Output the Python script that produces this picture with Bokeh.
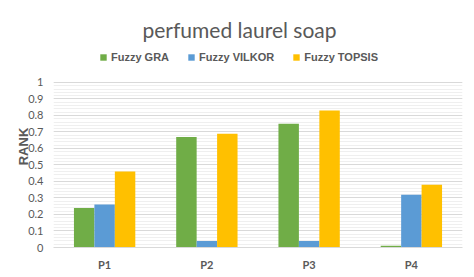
from bokeh.plotting import figure
from bokeh.models import FactorRange, Legend, LegendItem, ColumnDataSource, FixedTicker
from bokeh.transform import dodge
from bokeh.embed import file_html
from bokeh.resources import INLINE

products = ["P1", "P2", "P3", "P4"]
gra = [0.24, 0.67, 0.75, 0.01]
vilkor = [0.26, 0.04, 0.04, 0.32]
topsis = [0.46, 0.69, 0.83, 0.38]
series_names = ["Fuzzy GRA", "Fuzzy VILKOR", "Fuzzy TOPSIS"]
colors = ["#70ad47", "#5b9bd5", "#ffc000"]
y_ticks = [0, 0.1, 0.2, 0.3, 0.4, 0.5, 0.6, 0.7, 0.8, 0.9, 1.0]
y_minor = [i / 50 for i in range(51)]

src = ColumnDataSource(dict(x=products, gra=gra, vilkor=vilkor, topsis=topsis))

# frame spans up to the legend row; the value axis itself stops at 1
p = figure(width=474, height=277, x_range=FactorRange(*products), y_range=(0, 1.2242),
           output_backend="svg", toolbar_location=None,
           min_border_left=53, min_border_right=12, min_border_bottom=30, min_border_top=45)

p.title.text = "perfumed laurel soap"
p.title.align = "left"
p.title.offset = 89
p.title.text_font = "Lato"
p.title.text_font_size = "21px"
p.title.text_font_style = "normal"
p.title.text_color = "#595959"
p.title.standoff = 8

renderers = []
for col, off, c in zip(["gra", "vilkor", "topsis"], [-0.2, 0.0, 0.2], colors):
    r = p.vbar(x=dodge("x", off, range=p.x_range), top=col, width=0.2, source=src,
               fill_color=c, line_color=None)
    renderers.append(r)

legend = Legend(items=[LegendItem(label=n, renderers=[r]) for n, r in zip(series_names, renderers)],
                orientation="horizontal", location=(46, 184))
legend.label_text_font = "Liberation Sans"
legend.label_text_font_style = "bold"
legend.label_text_font_size = "11px"
legend.label_text_color = "#595959"
legend.glyph_width = 8
legend.glyph_height = 8
legend.spacing = 18
legend.label_standoff = 4
legend.label_height = 12
legend.border_line_color = None
legend.background_fill_alpha = 0
legend.padding = 2
legend.margin = 0
p.add_layout(legend)

p.x_range.range_padding = 0
p.xgrid.grid_line_color = None
p.yaxis.ticker = FixedTicker(ticks=y_ticks, minor_ticks=y_minor)
p.ygrid.grid_line_color = "#d9d9d9"
p.ygrid.minor_grid_line_color = "#efefef"
p.yaxis.axis_label = "RANK"
p.yaxis.axis_label_text_font = "Liberation Sans"
p.yaxis.axis_label_text_font_style = "bold"
p.yaxis.axis_label_text_font_size = "13px"
p.yaxis.axis_label_text_color = "#595959"
p.yaxis.axis_label_standoff = -6
p.yaxis.major_label_text_font = "Lato"
p.yaxis.major_label_text_font_size = "11px"
p.yaxis.major_label_text_color = "#595959"
p.yaxis.axis_line_color = None
p.yaxis.major_tick_line_color = None
p.yaxis.minor_tick_line_color = None
p.yaxis.major_label_standoff = 4

p.xaxis.axis_line_color = "#d9d9d9"
p.xaxis.major_tick_line_color = None
p.xaxis.minor_tick_line_color = None
p.xaxis.major_label_text_font = "Lato"
p.xaxis.major_label_text_font_style = "bold"
p.xaxis.major_label_text_font_size = "11px"
p.xaxis.major_label_text_color = "#595959"
p.xaxis.major_label_standoff = 4

p.outline_line_color = None

open("out.html", "w").write(file_html(p, INLINE))
